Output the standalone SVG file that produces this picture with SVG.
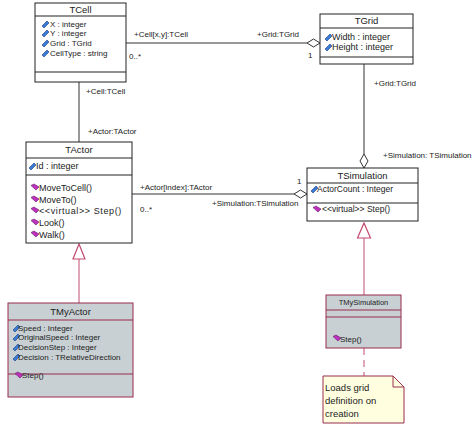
<svg xmlns="http://www.w3.org/2000/svg" xmlns:xlink="http://www.w3.org/1999/xlink" width="474" height="427" viewBox="0 0 474 427">
<style>
.box{fill:#fff;stroke:#222;stroke-width:1}
.sub{fill:#c8d0d4;stroke:#9a2c4c;stroke-width:1}
.sep{stroke:#222;stroke-width:1}
.sep2{stroke:#9a2c4c;stroke-width:1}
.t{font-family:"Liberation Sans",Arial,sans-serif;font-size:8px;fill:#222}
.h{font-family:"Liberation Sans",Arial,sans-serif;font-size:9.5px;fill:#222;text-anchor:middle}
.m{font-family:"Liberation Sans",Arial,sans-serif;font-size:9px;fill:#222}
.lbl{font-family:"Liberation Sans",Arial,sans-serif;font-size:8px;fill:#222}
.c{stroke:#333;stroke-width:1;fill:none}
.g{stroke:#c04a6e;stroke-width:1;fill:none}
.dia{fill:#fff;stroke:#333;stroke-width:1}
.tri{fill:#fff;stroke:#c04a6e;stroke-width:1.2}
</style>
<defs>
<g id="attr"><polygon points="0,5 5,0 7,2 2,7" fill="#3a7bd5" stroke="#1a3a80" stroke-width="0.6"/></g>
<g id="meth"><polygon points="0,1.5 3,0 8,3 5,6" fill="#c030c0" stroke="#602060" stroke-width="0.6"/></g>
</defs>

<g id="connectors">
  <line class="c" x1="126" y1="43" x2="307" y2="43"/>
  <polygon class="dia" points="307,43 313.5,39 320,43 313.5,47"/>
  <text class="lbl" x="134" y="37">+Cell[x,y]:TCell</text>
  <text class="lbl" x="257" y="37">+Grid:TGrid</text>
  <text class="lbl" x="129" y="59">0..*</text>
  <text class="lbl" x="308" y="58">1</text>

  <line class="c" x1="79" y1="82" x2="79" y2="142"/>
  <text class="lbl" x="86" y="94">+Cell:TCell</text>
  <text class="lbl" x="88" y="134">+Actor:TActor</text>

  <line class="c" x1="364" y1="64" x2="364" y2="154"/>
  <polygon class="dia" points="364,154 368,161 364,168 360,161"/>
  <text class="lbl" x="374" y="86">+Grid:TGrid</text>
  <text class="lbl" x="383" y="158">+Simulation: TSimulation</text>

  <line class="c" x1="132" y1="194" x2="294" y2="194"/>
  <polygon class="dia" points="294,194 300.5,190 307,194 300.5,198"/>
  <text class="lbl" x="140" y="190">+Actor[index]:TActor</text>
  <text class="lbl" x="297" y="184">1</text>
  <text class="lbl" x="140" y="212">0..*</text>
  <text class="lbl" x="212" y="206">+Simulation:TSimulation</text>

  <line class="g" x1="79" y1="259" x2="79" y2="303"/>
  <polygon class="tri" points="79,244 85,259 73,259"/>

  <line class="g" x1="364" y1="238" x2="364" y2="295"/>
  <polygon class="tri" points="364,223 370.5,238 357.5,238"/>

  <line class="g" x1="364" y1="348" x2="364" y2="376" stroke-dasharray="7,5"/>
</g>

<g id="TCell">
  <rect class="box" x="35" y="3" width="91" height="79"/>
  <line class="sep" x1="35" y1="16" x2="126" y2="16"/>
  <line class="sep" x1="35" y1="72" x2="126" y2="72"/>
  <text class="h" x="80.5" y="13">TCell</text>
  <use href="#attr" x="42" y="21"/><text class="t" x="50" y="27">X : integer</text>
  <use href="#attr" x="42" y="30"/><text class="t" x="50" y="36">Y : integer</text>
  <use href="#attr" x="42" y="40"/><text class="t" x="50" y="46">Grid : TGrid</text>
  <use href="#attr" x="42" y="50"/><text class="t" x="50" y="56">CellType : string</text>
</g>

<g id="TGrid">
  <rect class="box" x="320" y="14" width="93" height="50"/>
  <line class="sep" x1="320" y1="28" x2="413" y2="28"/>
  <line class="sep" x1="320" y1="57" x2="413" y2="57"/>
  <text class="h" x="366.5" y="24">TGrid</text>
  <use href="#attr" x="325" y="34"/><text class="t" x="332" y="40" style="font-size:9px">Width : integer</text>
  <use href="#attr" x="325" y="44"/><text class="t" x="332" y="50" style="font-size:9px">Height : integer</text>
</g>

<g id="TActor">
  <rect class="box" x="26" y="142" width="106" height="101"/>
  <line class="sep" x1="26" y1="158" x2="132" y2="158"/>
  <line class="sep" x1="26" y1="175" x2="132" y2="175"/>
  <text class="h" x="79" y="153">TActor</text>
  <use href="#attr" x="29" y="163"/><text class="m" x="36" y="169">Id : integer</text>
  <use href="#meth" x="31" y="184"/><text class="m" x="39" y="191">MoveToCell()</text>
  <use href="#meth" x="31" y="196"/><text class="m" x="39" y="203">MoveTo()</text>
  <use href="#meth" x="31" y="207"/><text class="m" x="39" y="214" letter-spacing="0.6">&lt;&lt;virtual&gt;&gt; Step()</text>
  <use href="#meth" x="31" y="219"/><text class="m" x="39" y="226">Look()</text>
  <use href="#meth" x="31" y="231"/><text class="m" x="39" y="238">Walk()</text>
</g>

<g id="TSimulation">
  <rect class="box" x="307" y="168" width="111" height="53"/>
  <line class="sep" x1="307" y1="183" x2="418" y2="183"/>
  <line class="sep" x1="307" y1="203" x2="418" y2="203"/>
  <text class="h" x="362.5" y="179">TSimulation</text>
  <use href="#attr" x="311" y="186"/><text class="t" x="317" y="192" style="font-size:8.5px">ActorCount : Integer</text>
  <use href="#meth" x="313" y="206"/><text class="t" x="322" y="212" style="font-size:8.5px">&lt;&lt;virtual&gt;&gt; Step()</text>
</g>

<g id="TMyActor">
  <rect class="sub" x="8" y="303" width="125" height="94"/>
  <line class="sep2" x1="8" y1="320" x2="133" y2="320"/>
  <line class="sep2" x1="8" y1="374" x2="133" y2="374"/>
  <text class="h" x="70.5" y="315">TMyActor</text>
  <use href="#attr" x="13" y="325"/><text class="lbl" x="18" y="331">Speed : Integer</text>
  <use href="#attr" x="13" y="334"/><text class="lbl" x="18" y="340">OriginalSpeed : Integer</text>
  <use href="#attr" x="13" y="344"/><text class="lbl" x="18" y="350">DecisionStep : Integer</text>
  <use href="#attr" x="13" y="354"/><text class="lbl" x="18" y="360">Decision : TRelativeDirection</text>
  <use href="#meth" x="15" y="372"/><text class="lbl" x="22" y="378">Step()</text>
</g>

<g id="TMySimulation">
  <rect class="sub" x="326" y="295" width="75" height="53"/>
  <line class="sep2" x1="326" y1="310" x2="401" y2="310"/>
  <line class="sep2" x1="326" y1="317" x2="401" y2="317"/>
  <text class="h" x="363.5" y="305" style="font-size:7.5px">TMySimulation</text>
  <use href="#meth" x="333" y="335"/><text class="lbl" x="340" y="342">Step()</text>
</g>

<g id="note">
  <polygon points="323,376 393,376 404,387 404,423 323,423" fill="#ffffe0" stroke="#9a2c4c" stroke-width="1"/>
  <polyline points="393,376 393,387 404,387" fill="none" stroke="#9a2c4c" stroke-width="1"/>
  <text class="t" x="325" y="391" style="font-size:9.5px">Loads grid</text>
  <text class="t" x="325" y="404" style="font-size:9.5px">definition on</text>
  <text class="t" x="325" y="417" style="font-size:9.5px">creation</text>
</g>
</svg>
